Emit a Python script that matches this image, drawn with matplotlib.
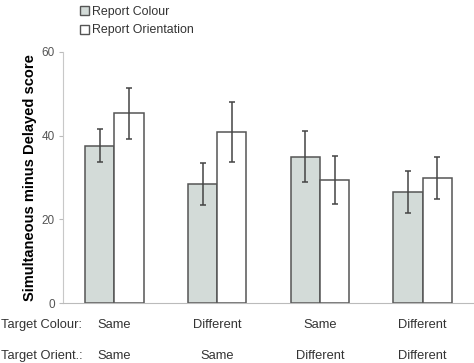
""" Simultaneous minus Delayed score by target condition """
import matplotlib.pyplot as plt
import numpy as np
from matplotlib.patches import Patch

plt.rcParams['font.family'] = ['Liberation Sans', 'DejaVu Sans']

colour_means = [37.6, 28.4, 35.0, 26.6]
colour_errs = [4.0, 5.0, 6.0, 5.0]
orient_means = [45.3, 40.9, 29.4, 29.9]
orient_errs = [6.1, 7.2, 5.7, 5.0]
target_colour = ['Same', 'Different', 'Same', 'Different']
target_orient = ['Same', 'Same', 'Different', 'Different']

fig = plt.figure(figsize=(4.74, 3.63), dpi=100)
ax = fig.add_axes([0.133, 0.165, 0.867, 0.692])

x = np.arange(len(colour_means))
w = 0.285
edge = '#555555'
ax.bar(x - w / 2, colour_means, w, color='#d3dbd8', edgecolor=edge,
       linewidth=1.1, yerr=colour_errs, capsize=2.5,
       error_kw={'ecolor': '#444444', 'elinewidth': 1.1, 'capthick': 1.1})
ax.bar(x + w / 2, orient_means, w, color='white', edgecolor=edge,
       linewidth=1.1, yerr=orient_errs, capsize=2.5,
       error_kw={'ecolor': '#444444', 'elinewidth': 1.1, 'capthick': 1.1})

ax.set_xlim(-0.5, 3.5)
ax.set_ylim(0, 60)
ax.set_yticks([0, 20, 40, 60])
ax.tick_params(axis='y', labelsize=8.5, colors='#555555', length=3,
               width=0.8, pad=3)
ax.tick_params(axis='y', color='#bbbbbb')
ax.set_xticks([])
for s in ['top', 'right']:
    ax.spines[s].set_visible(False)
ax.spines['left'].set_color('#c8c8c8')
ax.spines['bottom'].set_color('#bbbbbb')
ax.set_ylabel('Simultaneous minus Delayed score', fontsize=10.5,
              fontweight='bold', labelpad=3)

# category rows below the axis
trans = ax.get_xaxis_transform()
fig.text(0.003, 1 - 325 / 363, 'Target Colour:', fontsize=9.3,
         color='#333333', va='center')
fig.text(0.003, 1 - 356 / 363, 'Target Orient.:', fontsize=9.3,
         color='#333333', va='center')
for i in range(len(x)):
    ax.text(x[i], -(325 - 303) / 251, target_colour[i],
            transform=trans, ha='center', va='center', fontsize=9.3,
            color='#333333')
    ax.text(x[i], -(356 - 303) / 251, target_orient[i],
            transform=trans, ha='center', va='center', fontsize=9.3,
            color='#333333')

handles = [Patch(facecolor='#d3dbd8', edgecolor=edge, linewidth=1),
           Patch(facecolor='white', edgecolor=edge, linewidth=1)]
fig.legend(handles, ['Report Colour', 'Report Orientation'],
           loc='upper left', bbox_to_anchor=(0.145, 1.015), frameon=False,
           fontsize=8.9, handlelength=0.7, handleheight=0.75,
           handletextpad=0.3, labelspacing=0.55, labelcolor='#333333')

fig.savefig('out.png', dpi=100)
